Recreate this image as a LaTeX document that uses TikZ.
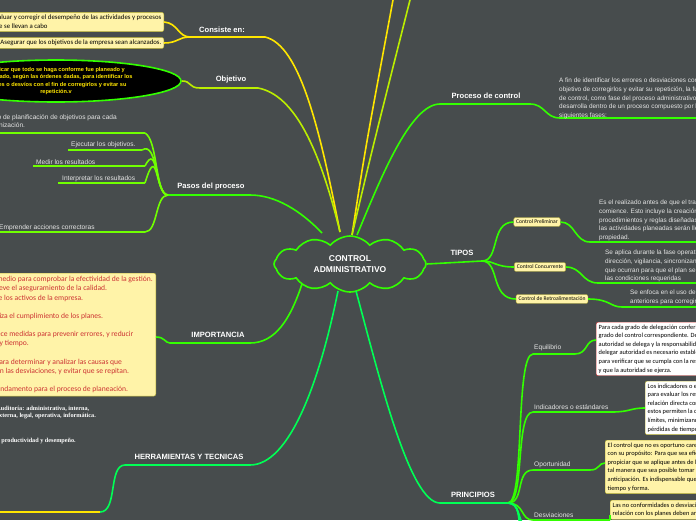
\documentclass[tikz,border=0pt]{standalone}
\usepackage{fontspec}
\setmainfont{Liberation Sans}
\newfontfamily\carl{Carlito}
\newfontfamily\tms{Liberation Serif}
\usetikzlibrary{shapes.symbols,shapes.geometric}
\definecolor{bg}{HTML}{474C4D}
\definecolor{gr}{HTML}{33FF00}
\definecolor{yl}{HTML}{FFE600}
\definecolor{yg}{HTML}{BBEE00}
\definecolor{mg}{HTML}{00FF55}
\definecolor{bx}{HTML}{FFF3A8}
\definecolor{rd}{HTML}{CC3333}
\tikzset{
  ln/.style={line width=1.6pt},
  lbl/.style={text=white,font=\bfseries\fontsize{7.6}{9}\selectfont,inner sep=1pt},
  sub/.style={text=white!90!black,font=\fontsize{6.6}{7.8}\selectfont,inner sep=1pt,align=left},
  rtx/.style={sub,anchor=north west,font=\fontsize{6.4}{8.6}\selectfont},
  ybox/.style={fill=bx,draw=yellow!70!black,rounded corners=2pt,font=\carl\fontsize{6}{8}\selectfont,align=left,inner sep=2.5pt},
  pbox/.style={ybox,anchor=north west,font=\carl\fontsize{6.4}{8.6}\selectfont},
}
\begin{document}
\begin{tikzpicture}[x=1pt,y=-1pt]
\fill[bg] (0,0) rectangle (696,520);
\useasboundingbox (0,0) rectangle (696,520);
\clip (0,0) rectangle (696,520);
% center
\node[cloud,cloud puffs=12,cloud puff arc=100,aspect=2.7,draw=gr,line width=1.6pt,minimum width=152pt,minimum height=56pt,text=white,font=\bfseries\fontsize{8.5}{11}\selectfont,align=center,fill=bg] (c) at (350,264) {CONTROL\\ADMINISTRATIVO};
\coordinate (ct2) at (352,235);
% top lines
\coordinate (t1) at (393,0); \coordinate (t2) at (410,0);
\draw[ln,yl] (ct2) .. controls (365,150) .. (t1);
\draw[ln,yg] (ct2) .. controls (372,150) .. (t2);
% Consiste en
\node[lbl] (cons) at (222,30) {Consiste en:};
\coordinate (cons1) at (265,37); \coordinate (cons0) at (190,37);
\draw[ln,yl] (340,232) .. controls (320,130) and (300,45) .. (cons1) -- (cons0);
\node[ybox,anchor=east,font=\carl\fontsize{6.8}{8.4}\selectfont] (b1) at (164,22) {Evaluar y corregir el desempeño de las actividades y procesos\\que se llevan a cabo};
\node[ybox,anchor=east,font=\carl\fontsize{6.8}{8.4}\selectfont] (b2) at (164,43) {Asegurar que los objetivos de la empresa sean alcanzados.};
\draw[ln,yl] (cons0) .. controls (178,37) and (178,23) .. (b1.east);
\draw[ln,yl] (cons0) .. controls (178,37) and (178,43) .. (b2.east);
% Objetivo
\node[lbl] (obj) at (231,80) {Objetivo};
\coordinate (obj1) at (258,88); \coordinate (obj0) at (200,88);
\draw[ln,yg] (340,232) .. controls (320,150) and (295,95) .. (obj1) -- (obj0);
\node[ellipse,fill=black,draw=gr,line width=1.6pt,minimum width=250pt,minimum height=42pt,inner sep=0pt,text=yl,font=\bfseries\fontsize{5.6}{7.4}\selectfont,align=center] (el) at (56,81) {Verificar que todo se haga conforme fue planeado y\\organizado, según las órdenes dadas, para identificar los\\errores o desvíos con el fin de corregirlos y evitar su\\repetición.v};
\draw[ln,yg] (el.east) .. controls (192,81) and (188,88) .. (obj0);
% Pasos del proceso
\node[lbl] (pas) at (211,187) {Pasos del proceso};
\coordinate (pas1) at (250,195); \coordinate (pas0) at (168,195);
\draw[ln,gr] (322,233) .. controls (300,210) and (275,195) .. (pas1) -- (pas0);
\node[sub,anchor=south east] (p1) at (118,130) {Establecimiento de planificación de objetivos para cada\\área de la organización.};
\node[sub,anchor=south west] (p2) at (70,149) {Ejecutar los objetivos.};
\node[sub,anchor=south west] (p3) at (35,166) {Medir los resultados};
\node[sub,anchor=south west] (p4) at (61,183) {Interpretar los resultados};
\node[sub,anchor=south west] (p5) at (-2,232) {Emprender acciones correctoras};
\coordinate (q1) at (145,133); \coordinate (q2) at (142,150); \coordinate (q3) at (145,166); \coordinate (q4) at (145,183); \coordinate (q5) at (145,232);
\draw[ln,gr!70!yellow] (q1) -- (0,133);
\draw[ln,gr!70!yellow] (q2) -- (68,150);
\draw[ln,gr!70!yellow] (q3) -- (33,166);
\draw[ln,gr!70!yellow] (q4) -- (58,183);
\draw[ln,gr!70!yellow] (q5) -- (0,232);
\foreach \q in {q1,q2,q3,q4}{\draw[ln,gr!70!yellow] (pas0) .. controls (155,195) and (158,140) .. (\q);}
\draw[ln,gr!70!yellow] (pas0) .. controls (155,195) and (158,232) .. (q5);
% Importancia
\node[lbl] (imp) at (218,335) {IMPORTANCIA};
\coordinate (imp1) at (250,343); \coordinate (imp0) at (170,343);
\draw[ln,gr] (302,284) .. controls (290,320) and (275,343) .. (imp1) -- (imp0);
\node[ybox,anchor=north east,text=rd,font=\carl\fontsize{7.6}{9.3}\selectfont,inner sep=3pt] (ib) at (156,273) {Es un medio para comprobar la efectividad de la gestión.\\Promueve el aseguramiento de la calidad.\\Protege los activos de la empresa.\\[9pt]Garantiza el cumplimiento de los planes.\\[9pt]Establece medidas para prevenir errores, y reducir\\costos y tiempo.\\[9pt]Sirve para determinar y analizar las causas que\\originan las desviaciones, y evitar que se repitan.\\[9pt]Es el fundamento para el proceso de planeación.};
\draw[ln,gr] (imp0) .. controls (165,343) and (165,337) .. (ib.east|-0,337);
% Herramientas
\node[lbl] (her) at (189,457) {HERRAMIENTAS Y TECNICAS};
\coordinate (her1) at (250,465); \coordinate (her0) at (125,465);
\draw[ln,mg] (338,291) .. controls (320,380) and (290,465) .. (her1) -- (her0) .. controls (108,465) and (118,512) .. (100,512);
\draw[ln,yl] (100,512) -- (0,512);
\node[anchor=north east,text=white,font=\tms\bfseries\fontsize{6.2}{7.2}\selectfont,align=left,inner sep=0pt] (h1) at (96,406) {Auditoría: administrativa, interna,\\externa, legal, operativa, informática.};
\node[anchor=north east,text=white,font=\tms\bfseries\fontsize{6.2}{7.2}\selectfont,inner sep=0pt] (h2) at (76,438) {Medición de la productividad y desempeño.};
% Proceso de control
\node[lbl] (pro) at (486,96) {Proceso de control};
\coordinate (pro1) at (530,104); \coordinate (pro0) at (440,104);
\coordinate (pro2) at (560,118);
\draw[ln,gr] (357,235) .. controls (380,180) and (410,104) .. (pro0) -- (pro1) .. controls (545,104) and (545,118) .. (pro2) -- (700,118);
\node[rtx] (pt) at (558,77) {A fin de identificar los errores o desviaciones con el\\objetivo de corregirlos y evitar su repetición, la función\\de control, como fase del proceso administrativo, se\\desarrolla dentro de un proceso compuesto por las\\siguientes fases:};
% Tipos
\node[lbl] (tip) at (462,253) {TIPOS};
\coordinate (tip0) at (482,261);
\draw[ln,gr] (c.east) -- (tip0);
\node[ybox,font=\carl\fontsize{5.6}{6.5}\selectfont] (t1b) at (537,222) {Control Preliminar};
\node[ybox,font=\carl\fontsize{5.6}{6.5}\selectfont] (t2b) at (540,267) {Control Concurrente};
\node[ybox,font=\carl\fontsize{5.6}{6.5}\selectfont] (t3b) at (552,299) {Control de Retroalimentación};
\draw[ln,gr] (tip0) .. controls (500,261) and (490,222) .. (t1b.west);
\draw[ln,gr] (tip0) .. controls (495,261) and (495,267) .. (t2b.west);
\draw[ln,gr] (tip0) .. controls (500,261) and (490,299) .. (t3b.west);
\coordinate (u1) at (590,242); \coordinate (u2) at (598,283); \coordinate (u3) at (622,307);
\draw[ln,gr] (t1b.east) .. controls (575,222) and (575,242) .. (u1) -- (700,242);
\draw[ln,gr] (t2b.east) .. controls (582,267) and (582,283) .. (u2) -- (700,283);
\draw[ln,gr] (t3b.east) .. controls (610,299) and (610,307) .. (u3) -- (700,307);
\node[rtx] (tx1) at (598,199) {Es el realizado antes de que el trabajo\\comience. Esto incluye la creación de\\procedimientos y reglas diseñadas para que\\las actividades planeadas serán llevadas con\\propiedad.};
\node[rtx] (tx2) at (604,249) {Se aplica durante la fase operativa, de\\dirección, vigilancia, sincronizando actividades\\que ocurran para que el plan se cumpla en\\las condiciones requeridas};
\node[rtx] (tx3) at (629,289) {Se enfoca en el uso de información de resultados\\anteriores para corregir desviaciones};
% Principios
\node[lbl] (pri) at (473,495) {PRINCIPIOS};
\coordinate (pri0) at (440,503); \coordinate (pri1) at (508,503);
\draw[ln,mg] (356,291) .. controls (380,380) and (410,503) .. (pri0) -- (pri1);
\node[sub,anchor=south west] (e1) at (533,352) {Equilibrio};
\node[sub,anchor=south west] (e2) at (533,411) {Indicadores o estándares};
\node[sub,anchor=south west] (e3) at (533,469) {Oportunidad};
\node[sub,anchor=south west] (e4) at (533,519) {Desviaciones};
\coordinate (f1) at (575,354); \coordinate (f2) at (612,412); \coordinate (f3) at (590,470); \coordinate (f4) at (610,520);
\draw[ln,gr] (pri1) .. controls (525,503) and (515,354) .. (533,354) -- (f1);
\draw[ln,gr] (pri1) .. controls (525,503) and (515,412) .. (533,412) -- (f2);
\draw[ln,gr] (pri1) .. controls (525,503) and (515,470) .. (533,470) -- (f3);
\draw[ln,gr] (pri1) .. controls (525,503) and (520,520) .. (533,520) -- (f4);
\foreach \k in {0,2,4}{\draw[ln,mg] (pri1) .. controls (520,503) and (518,520) .. (520+\k,525);}
\node[pbox,fill=white,draw=rd] (g1) at (596,322) {Para cada grado de delegación conferido debe proporcionarse el\\grado del control correspondiente. De la misma manera que la\\autoridad se delega y la responsabilidad se comparte, al\\delegar autoridad es necesario establecer los mecanismos\\para verificar que se cumpla con la responsabilidad conferida,\\y que la autoridad se ejerza.};
\node[pbox,fill=white] (g2) at (645,381) {Los indicadores o estándares son útiles\\para evaluar los resultados con\\relación directa con los objetivos;\\estos permiten la definición de\\límites, minimizando riesgos y\\pérdidas de tiempo.};
\node[pbox] (g3) at (605,440) {El control que no es oportuno carece de relación\\con su propósito: Para que sea eficaz, debe\\propiciar que se aplique antes de la desviación, de\\tal manera que sea posible tomar medidas con\\anticipación. Es indispensable que se dé en\\tiempo y forma.};
\node[pbox] (g4) at (610,500) {Las no conformidades o desviaciones en\\relación con los planes deben analizarse};
\draw[ln,gr] (f1) .. controls (588,354) and (585,340) .. (g1.west|-0,340);
\draw[ln,gr] (f2) .. controls (630,412) and (630,408) .. (g2.west|-0,408);
\draw[ln,gr] (f3) .. controls (600,470) and (598,463) .. (g3.west|-0,463);
\draw[ln,gr] (f4) -- (g4.west|-0,515);
\end{tikzpicture}
\end{document}
